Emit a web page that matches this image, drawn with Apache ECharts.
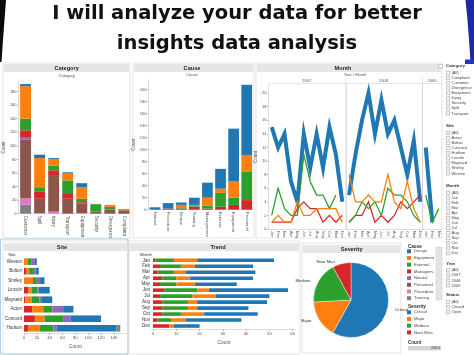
<!DOCTYPE html>
<html><head><meta charset="utf-8">
<script src="https://cdn.jsdelivr.net/npm/echarts@6/dist/echarts.min.js"></script>
<style>html,body{margin:0;padding:0;background:#fff}#c{width:474px;height:355px}</style>
</head><body><div id="c"></div>
<script>
// ---------- DATA ----------
const titleLines = ['I will analyze your data for better', 'insights data analysis'];

// Category chart (stacked by Cause)
const categories = ['Customer','Spill','Injury','Transport','Equipment','Security','Divergence','Complaint'];
const catTraining   = [13, 0, 0, 0, 0, 0, 0, 0];
const catProcedure  = [10, 1, 3, 0, 1, 0, 0, 0];
const catPersonnel  = [86, 21, 54, 22, 14, 3, 6, 5];
const catNatural    = [4, 0, 0, 0, 0, 0, 0, 0];
const catManagement = [10, 11, 7, 7, 2, 0, 0, 0];
const catExternal   = [17, 6, 7, 20, 5, 11, 4, 0];
const catEquipment  = [48, 43, 9, 10, 17, 0, 3, 2];
const catDesign     = [3, 5, 2, 2, 6, 0, 0, 0];

// Cause chart (stacked by Severity)
const causeCats     = ['Natural','Procedure','Design','Training','Management','External','Equipment','Personnel'];
const causeNearMiss = [0, 2, 2, 5, 2, 5, 8, 16];
const causeMedium   = [0, 0, 2, 1, 5, 23, 12, 47];
const causeMajor    = [0, 0, 4, 2, 13, 7, 27, 28];
const causeCritical = [4, 9, 4, 12, 25, 33, 88, 117];

// Month chart (Year / Month, by Severity)
const months = ['Jan','Feb','Mar','Apr','May','Jun','Jul','Aug','Sep','Oct','Nov','Dec'];
const months2009 = ['Jan','Feb','Mar'];
const years = ['2007','2008','2009'];
const crit2007  = [15, 12, 14, 7, 4, 14, 9, 14, 9, 15, 11, 4];
const major2007 = [1, 2, 1, 1, 4, 2, 2, 3, 3, 3, 3, 1];
const med2007   = [2, 6, 3, 2, 2, 11, 7, 5, 5, 3, 5, null];
const near2007  = [1, 1, 1, 1, 3, 4, 3, 3, 1, 2, 1, 2];
const crit2008  = [5, 11, 16, 20, 14, 19, 14, 16, 12, 8, 13, 4];
const major2008 = [8, 4, 4, 5, 4, 4, 8, 4, 3, 7, 3, 1];
const med2008   = [1, 2, 4, 3, 4, 2, 6, 5, 5, 4, 2, 1];
const near2008  = [1, 2, 2, 4, 1, 2, 1, 2, 4, 3, 4, 5];
const crit2009  = [12, 1, null];
const med2009   = [5, 1, 3];

// Site chart (stacked by Cause)
const sites         = ['Weston','Bolton','Shirley','Lincoln','Maynard','Acton','Concord','Hudson'];
const siteMgmt      = [0, 4, 0, 7, 2, 13, 17, 7];
const siteEquip     = [6, 4, 14, 5, 10, 17, 15, 18];
const siteExternal  = [6, 6, 6, 9, 12, 14, 30, 21];
const siteNatural   = [5, 4, 5, 2, 4, 17, 11, 5];
const siteDesign    = [3, 5, 7, 17, 16, 16, 47, 93];
const siteTraining  = [0, 0, 0, 0, 0, 0, 0, 6];

// Trend chart (Month, stacked by Severity)
const trendNearMiss = [1, 3, 2, 4, 3, 5, 3, 4, 4, 4, 2, 7];
const trendMedium   = [8, 9, 7, 6, 7, 14, 14, 11, 11, 8, 6, 0];
const trendMajor    = [10, 6, 5, 6, 8, 5, 10, 4, 4, 10, 6, 2];
const trendCritical = [33, 25, 30, 27, 18, 34, 23, 30, 22, 23, 24, 11];

// Severity pie
const severities     = ['Critical','Major','Medium','Near Miss'];
const severityCounts = [292, 81, 90, 40];

// Legend / filter lists
const causeLegend = ['Design','Equipment','External','Management','Natural','Personnel','Procedure','Training'];
const filterCategory = ['(All)','Complaint','Customer','Divergence','Equipment','Injury','Security','Spill','Transport'];
const filterSite = ['(All)','Acton','Bolton','Concord','Hudson','Lincoln','Maynard','Shirley','Weston'];
const filterMonth = ['(All)'].concat(months);
const filterYear = ['(All)'].concat(years);
const filterStatus = ['(All)','Closed','Open'];
const countLegendMax = '208.0';

// ---------- STYLE ----------
const C = {
  Design:'#1f77b4', Equipment:'#ff7f0e', External:'#2ca02c', Management:'#d62728',
  Natural:'#9467bd', Personnel:'#8c564b', Procedure:'#e377c2', Training:'#7f7f7f',
  Critical:'#1f77b4', Major:'#ff7f0e', Medium:'#2ca02c', 'Near Miss':'#d62728'
};
const FF = 'Liberation Sans';
const lab = (s, extra) => Object.assign({fontSize:s, color:'#555', fontFamily:FF}, extra||{});
const axLine = {show:true, lineStyle:{color:'#c8c8c8', width:0.6}};

// ---------- BUILD ----------
const grids = [
  {left:13.3, top:81.4, width:117.6, height:132.3},   // 0 Category
  {left:148.5, top:80, width:104.8, height:129.7},    // 1 Cause
  {left:268.5, top:85, width:77, height:144},         // 2 Month 2007
  {left:345.8, top:85, width:77.7, height:144},       // 3 Month 2008
  {left:422.5, top:85, width:19.5, height:144},       // 4 Month 2009
  {left:24, top:256.9, width:102.7, height:76.1},     // 5 Site
  {left:153, top:257.3, width:142, height:71.7}       // 6 Trend
];

const xAxis = [
  {gridIndex:0, type:'category', data:categories, axisTick:{show:false}, axisLine:axLine,
   axisLabel:lab(4.5,{rotate:-90, margin:2, interval:0})},
  {gridIndex:1, type:'category', data:causeCats, axisTick:{show:false}, axisLine:axLine,
   axisLabel:lab(4.3,{rotate:-90, margin:2, interval:0})},
  {gridIndex:2, type:'category', data:months, axisTick:{show:false}, axisLine:axLine,
   axisLabel:lab(3.8,{rotate:-90, margin:2, interval:0})},
  {gridIndex:3, type:'category', data:months, axisTick:{show:false}, axisLine:axLine,
   axisLabel:lab(3.8,{rotate:-90, margin:2, interval:0})},
  {gridIndex:4, type:'category', data:months2009, axisTick:{show:false}, axisLine:axLine,
   axisLabel:lab(3.8,{rotate:-90, margin:2, interval:0})},
  {gridIndex:5, type:'value', min:0, max:160, interval:20, splitLine:{show:false}, axisLine:axLine,
   axisTick:{show:true, length:2, lineStyle:{color:'#bbb'}},
   axisLabel:lab(4.3,{margin:3, showMaxLabel:false}),
   name:'Count', nameLocation:'middle', nameGap:11, nameTextStyle:lab(4.8)},
  {gridIndex:6, type:'value', min:0, max:61, interval:10, splitLine:{show:false}, axisLine:axLine,
   axisTick:{show:true, length:2, lineStyle:{color:'#bbb'}},
   axisLabel:lab(4.3,{margin:3, showMaxLabel:false}),
   name:'Count', nameLocation:'middle', nameGap:11, nameTextStyle:lab(4.8)}
];

const yAxis = [
  {gridIndex:0, type:'value', min:0, max:195, interval:20, splitLine:{show:false}, axisLine:axLine,
   axisTick:{show:true, length:1.5, lineStyle:{color:'#bbb'}},
   axisLabel:lab(4,{margin:2, showMaxLabel:false}),
   name:'Count', nameLocation:'middle', nameGap:9, nameTextStyle:lab(4.5)},
  {gridIndex:1, type:'value', min:0, max:216, interval:20, splitLine:{show:false}, axisLine:axLine,
   axisTick:{show:true, length:1.5, lineStyle:{color:'#bbb'}},
   axisLabel:lab(4,{margin:2, showMaxLabel:false}),
   name:'Count', nameLocation:'middle', nameGap:9, nameTextStyle:lab(4.5)},
  {gridIndex:2, type:'value', min:0, max:21.2, interval:2, splitLine:{show:false}, axisLine:axLine,
   axisTick:{show:true, length:1.5, lineStyle:{color:'#bbb'}},
   axisLabel:lab(4,{margin:2, showMaxLabel:false}),
   name:'Count', nameLocation:'middle', nameGap:7, nameTextStyle:lab(4.5)},
  {gridIndex:3, type:'value', min:0, max:21.2, interval:2, splitLine:{show:false}, axisLine:axLine,
   axisTick:{show:false}, axisLabel:{show:false}},
  {gridIndex:4, type:'value', min:0, max:21.2, interval:2, splitLine:{show:false}, axisLine:axLine,
   axisTick:{show:false}, axisLabel:{show:false}},
  {gridIndex:5, type:'category', data:sites, inverse:true, axisTick:{show:false}, axisLine:{show:false},
   axisLabel:lab(4.5,{margin:2, color:'#333', interval:0})},
  {gridIndex:6, type:'category', data:months, inverse:true, axisTick:{show:false}, axisLine:{show:false},
   axisLabel:lab(4.5,{margin:3, color:'#333', interval:0})}
];

const series = [];
// Category stacks
[['Training',catTraining],['Procedure',catProcedure],['Personnel',catPersonnel],['Natural',catNatural],
 ['Management',catManagement],['External',catExternal],['Equipment',catEquipment],['Design',catDesign]
].forEach(([n,d]) => series.push({type:'bar', name:n, data:d, stack:'cat', xAxisIndex:0, yAxisIndex:0,
  barCategoryGap:'22%', itemStyle:{color:C[n]}}));
// Cause stacks
[['Near Miss',causeNearMiss],['Medium',causeMedium],['Major',causeMajor],['Critical',causeCritical]
].forEach(([n,d]) => series.push({type:'bar', name:n, data:d, stack:'cause', xAxisIndex:1, yAxisIndex:1,
  barCategoryGap:'18%', itemStyle:{color:C[n]}}));
// Month lines
const lineSets = [
  [2, [['Near Miss',near2007],['Medium',med2007],['Major',major2007],['Critical',crit2007]]],
  [3, [['Near Miss',near2008],['Medium',med2008],['Major',major2008],['Critical',crit2008]]],
  [4, [['Medium',med2009],['Critical',crit2009]]]
];
lineSets.forEach(([g, sets]) => sets.forEach(([n,d]) => series.push({
  type:'line', name:n, data:d, xAxisIndex:g, yAxisIndex:g, symbol:'none', smooth:false,
  lineStyle:{color:C[n], width: n==='Critical'?4:1.3, join:'miter'}, itemStyle:{color:C[n]},
  z: n==='Critical'?2:3
})));
// Site stacks
[['Management',siteMgmt],['Equipment',siteEquip],['External',siteExternal],['Natural',siteNatural],
 ['Design',siteDesign],['Training',siteTraining]
].forEach(([n,d]) => series.push({type:'bar', name:n, data:d, stack:'site', xAxisIndex:5, yAxisIndex:5,
  barCategoryGap:'30%', itemStyle:{color:C[n]}}));
// Trend stacks
[['Near Miss',trendNearMiss],['Medium',trendMedium],['Major',trendMajor],['Critical',trendCritical]
].forEach(([n,d]) => series.push({type:'bar', name:n, data:d, stack:'trend', xAxisIndex:6, yAxisIndex:6,
  barCategoryGap:'40%', itemStyle:{color:C[n]}}));
// Severity pie
series.push({type:'pie', name:'Severity', center:[351,300], radius:37.5, startAngle:90, clockwise:true,
  data: severities.map((n,i) => ({name:n, value:severityCounts[i], itemStyle:{color:C[n]}})),
  itemStyle:{borderColor:'#fff', borderWidth:0.4},
  label:{show:true, position:'outside', fontSize:4.2, color:'#333', fontFamily:FF},
  labelLine:{show:false, length:2, length2:1}, emphasis:{disabled:true}});

// ---------- GRAPHIC ----------
const G = [];
const T = (x,y,text,size,o) => G.push(Object.assign({type:'text', x, y, silent:true,
  style:Object.assign({text, fontSize:size, fontFamily:FF, fill:'#333', align:'center', verticalAlign:'middle'}, (o&&o.style)||{})},
  o&&o.z!=null?{z:o.z}:{}));
const R = (x,y,w,h,fill,stroke,lw) => G.push({type:'rect', silent:true, shape:{x,y,width:w,height:h},
  style:{fill:fill||'none', stroke:stroke||null, lineWidth:lw||0.6}});
const L = (x1,y1,x2,y2,stroke,lw) => G.push({type:'line', silent:true, shape:{x1,y1,x2,y2}, style:{stroke, lineWidth:lw||0.6}});

// decorative corners
G.push({type:'polygon', silent:true, shape:{points:[[0,0],[6,0],[4.5,20],[3,40],[1.5,62],[0,62]]}, style:{fill:'#0b0b0b'}});
G.push({type:'polygon', silent:true, shape:{points:[[474,0],[465.5,0],[467.5,20],[469,40],[470.5,62],[474,62]]}, style:{fill:'#1b2aa8'}});
R(465,59.5,9,4.5,'#2337c6');

// title
T(237,13.5,titleLines[0],19.5,{style:{fontFamily:'DejaVu Sans', fontWeight:'bold', fill:'#111'}});
T(237,43.5,titleLines[1],19.5,{style:{fontFamily:'DejaVu Sans', fontWeight:'bold', fill:'#111'}});

// panels
const panel = (x,y,w,h,title,tx,hy) => {
  R(x,y,w,h,null,'#d9d9d9',0.7);
  R(x+1,hy,w-2,8,'#e6e6e6',null);
  T(tx,hy+4.2,title,5.6,{style:{fontWeight:'bold', fill:'#222'}});
};
panel(3,63,127,175,'Category',66.7,64);
T(66.7,75.7,'Category',4,{style:{fill:'#555'}});
panel(133,63,121,175,'Cause',192,64);
T(192,75,'Cause',4,{style:{fill:'#555'}});
panel(256,63,186,175,'Month',343,64);
T(355,75,'Year / Month',4,{style:{fill:'#555'}});
T(306.7,80.6,years[0],4,{style:{fill:'#555'}});
T(383.6,80.6,years[1],4,{style:{fill:'#555'}});
T(432,80.6,years[2],4,{style:{fill:'#555'}});
L(268.5,83.5,442,83.5,'#d5d5d5',0.6);
L(345.8,77,345.8,229,'#d5d5d5',0.6);
L(422.5,77,422.5,229,'#d5d5d5',0.6);

panel(3,241,125,113,'Site',62,243);
R(0.5,239,127.5,115,null,'#9cc3e6',0.8);
T(12,255,'Site',4.3,{style:{fill:'#333'}});
panel(129,241,171,113,'Trend',218,243);
T(146,255,'Month',4.3,{style:{fill:'#333'}});
panel(302,243,99,110,'Severity',351.7,245);

// color legend titles + count
T(408,246.6,'Cause',4.6,{style:{align:'left', fontWeight:'bold', fill:'#333'}});
T(408,306.6,'Severity',4.6,{style:{align:'left', fontWeight:'bold', fill:'#333'}});
T(408,342.3,'Count',4.6,{style:{align:'left', fontWeight:'bold', fill:'#333'}});
R(408,346,33,4.5,'#d5d5d5',null);
T(440,348.3,countLegendMax,3.6,{style:{align:'right', fill:'#444'}});

// scroll bar
R(436,247,6,53,'#e3e3e3','#cfcfcf',0.5);

// filter panel
const groups = [['Category',filterCategory,66],['Site',filterSite,126],['Month',filterMonth,185.7],
                ['Year',filterYear,263.3],['Status',filterStatus,295]];
R(438.5,64.5,4,3.5,'#fff','#999',0.5);
groups.forEach(([title, items, y0]) => {
  T(446,y0,title,4.4,{style:{align:'left', fontWeight:'bold', fill:'#333'}});
  items.forEach((it,i) => {
    const y = y0 + 7 + i*5.05;
    R(446.5,y-1.6,3.2,3.2,'#fff','#888',0.5);
    T(451.5,y,it,4,{style:{align:'left', fill:'#444'}});
  });
});

const chart = echarts.init(document.getElementById('c'));
chart.setOption({
  animation:false,
  backgroundColor:'#fff',
  textStyle:{fontFamily:FF},
  grid:grids, xAxis, yAxis, series,
  legend:[
    {data:causeLegend, orient:'vertical', left:407, top:249.3, itemWidth:4, itemHeight:4, itemGap:2.7,
     icon:'rect', padding:0, selectedMode:false,
     formatter: n => n==='Management' ? 'Managem.' : n,
     textStyle:{fontSize:4.2, color:'#444', fontFamily:FF, padding:[0,0,0,-2]}},
    {data:severities, orient:'vertical', left:407, top:310.3, itemWidth:4, itemHeight:4, itemGap:2.7,
     icon:'rect', padding:0, selectedMode:false,
     textStyle:{fontSize:4.2, color:'#444', fontFamily:FF, padding:[0,0,0,-2]}}
  ],
  graphic:G
});
</script></body></html>
